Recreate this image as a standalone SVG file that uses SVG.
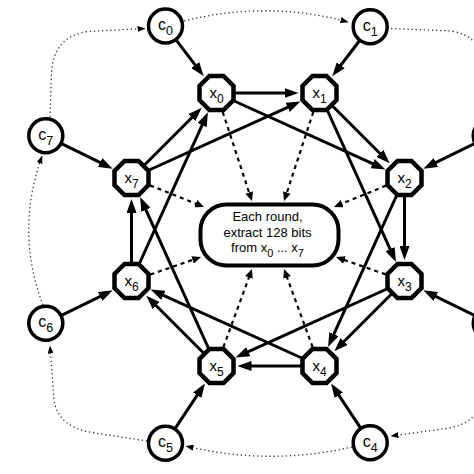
<svg xmlns="http://www.w3.org/2000/svg" xmlns:xlink="http://www.w3.org/1999/xlink" width="474" height="474" viewBox="0 0 474 474">
<style>
.bg{fill:#fff}
.e{fill:none;stroke:#000;stroke-width:3;marker-end:url(#ah)}
.d{fill:none;stroke:#000;stroke-width:2.2;stroke-dasharray:4 4;marker-end:url(#dh)}
.t{fill:none;stroke:#333;stroke-width:1.3;stroke-dasharray:1.3 2.8;marker-end:url(#th)}
.oct{fill:#fff;stroke:#000;stroke-width:4.5;stroke-linejoin:miter}
.cir{fill:#fff;stroke:#000;stroke-width:3.5}
.box{fill:#fff;stroke:#000;stroke-width:4}
.lbl{font-family:"Liberation Sans",Arial,sans-serif;font-size:15px;fill:#000;text-anchor:middle}
.sub{font-size:12px}
.btxt{font-family:"Liberation Sans",Arial,sans-serif;font-size:13px;fill:#000;text-anchor:middle}
.bsub{font-size:11px}
</style>
<defs>
<marker id="ah" markerUnits="userSpaceOnUse" markerWidth="14" markerHeight="10" refX="6" refY="5" orient="auto" viewBox="0 0 14 10"><path d="M0,0 L14,5 L0,10 z" fill="#000"/></marker>
<marker id="dh" markerUnits="userSpaceOnUse" markerWidth="9" markerHeight="8" refX="4" refY="4" orient="auto" viewBox="0 0 9 8"><path d="M0,0 L9,4 L0,8 z" fill="#000"/></marker>
<marker id="th" markerUnits="userSpaceOnUse" markerWidth="8" markerHeight="6" refX="7.5" refY="3" orient="auto" viewBox="0 0 8 6"><path d="M0,0 L8,3 L0,6 z" fill="#000"/></marker>
<polygon id="oct" points="-7,-17 7,-17 17,-7 17,7 7,17 -7,17 -17,7 -17,-7"/>
</defs>
<rect class="bg" x="0" y="0" width="474" height="474"/>

<g id="connectors">
  <!-- dotted ring between c nodes -->
  <path class="t" d="M184,21 Q268,0 348,22"/>
  <path class="t" d="M391,28.5 L451,31 Q483,36 484.5,70 L486,117"/>
  <path class="t" d="M486,346 L482,398 Q478,424 446,428.5 L391,436"/>
  <path class="t" d="M352,447 Q268,466 186,446"/>
  <path class="t" d="M147,441 L95,433 Q58,428 54,400 L50,346"/>
  <path class="t" d="M43,305 Q15,232 42,156"/>
  <path class="t" d="M50,117 L51.5,72 Q54,36 88,31.5 L145,28.5"/>

  <!-- c_i to x_i -->
  <path class="e" d="M176.4,40.3 L198.9,69.9"/>
  <path class="e" d="M359.3,41 L337.1,70"/>
  <path class="e" d="M474,143.8 L430.5,165.2"/>
  <path class="e" d="M474,315.2 L430.5,293.8"/>
  <path class="e" d="M360.3,427.7 L335.5,390.2"/>
  <path class="e" d="M175.4,428.2 L200.5,390.2"/>
  <path class="e" d="M62,315.2 L105.5,293.8"/>
  <path class="e" d="M62,143.8 L105.5,165.2"/>

  <!-- x_i to x_(i+1) -->
  <path class="e" d="M233.5,93 L290.5,93"/>
  <path class="e" d="M331.5,105 L384,157.5"/>
  <path class="e" d="M404.5,195 L404.5,252"/>
  <path class="e" d="M392.5,293 L340,345.5"/>
  <path class="e" d="M302.5,366 L245.5,366"/>
  <path class="e" d="M204.5,354 L152,301.5"/>
  <path class="e" d="M131.5,264 L131.5,207"/>
  <path class="e" d="M143.5,166 L196,113.5"/>

  <!-- x_i to x_(i+2) -->
  <path class="e" d="M232,100 L378.1,166.1"/>
  <path class="e" d="M326.5,108.5 L392.6,254.6"/>
  <path class="e" d="M397.5,193.5 L331.4,339.6"/>
  <path class="e" d="M389,288 L242.9,354.1"/>
  <path class="e" d="M304,359 L157.9,292.9"/>
  <path class="e" d="M209.5,350.5 L143.4,204.4"/>
  <path class="e" d="M138.5,265.5 L204.6,119.6"/>
  <path class="e" d="M147,171 L293.1,104.9"/>

  <!-- x_i to extraction box -->
  <path class="d" d="M222.7,112 L250.4,196.3"/>
  <path class="d" d="M313.3,112 L285.6,196.3"/>
  <path class="d" d="M386,185.6 L338.6,205.1"/>
  <path class="d" d="M385.6,274.4 L340.7,258.7"/>
  <path class="d" d="M312.6,347.2 L285.7,273.7"/>
  <path class="d" d="M223.4,347.2 L250.3,273.7"/>
  <path class="d" d="M150.4,274.5 L196.3,258.6"/>
  <path class="d" d="M150.1,185.4 L199.4,205.1"/>
</g>

<g id="box">
  <rect class="box" x="200.5" y="204.5" width="138" height="61" rx="26" ry="26"/>
  <text class="btxt" x="267.5" y="221">Each round,</text>
  <text class="btxt" x="267.5" y="237">extract 128 bits</text>
  <text class="btxt" x="267.5" y="252">from x<tspan class="bsub" dy="5">0</tspan><tspan dy="-5"> ... x</tspan><tspan class="bsub" dy="5">7</tspan></text>
</g>

<g id="x0" transform="translate(216.5,93)"><use xlink:href="#oct" class="oct"/><text class="lbl" x="0" y="5">x<tspan class="sub" dy="4.5">0</tspan></text></g>
<g id="x1" transform="translate(319.5,93)"><use xlink:href="#oct" class="oct"/><text class="lbl" x="0" y="5">x<tspan class="sub" dy="4.5">1</tspan></text></g>
<g id="x2" transform="translate(404.5,178)"><use xlink:href="#oct" class="oct"/><text class="lbl" x="0" y="5">x<tspan class="sub" dy="4.5">2</tspan></text></g>
<g id="x3" transform="translate(404.5,281)"><use xlink:href="#oct" class="oct"/><text class="lbl" x="0" y="5">x<tspan class="sub" dy="4.5">3</tspan></text></g>
<g id="x4" transform="translate(319.5,366)"><use xlink:href="#oct" class="oct"/><text class="lbl" x="0" y="5">x<tspan class="sub" dy="4.5">4</tspan></text></g>
<g id="x5" transform="translate(216.5,366)"><use xlink:href="#oct" class="oct"/><text class="lbl" x="0" y="5">x<tspan class="sub" dy="4.5">5</tspan></text></g>
<g id="x6" transform="translate(131.5,281)"><use xlink:href="#oct" class="oct"/><text class="lbl" x="0" y="5">x<tspan class="sub" dy="4.5">6</tspan></text></g>
<g id="x7" transform="translate(131.5,178)"><use xlink:href="#oct" class="oct"/><text class="lbl" x="0" y="5">x<tspan class="sub" dy="4.5">7</tspan></text></g>

<g id="c0" transform="translate(165.5,26)"><circle class="cir" r="17"/><text class="lbl" x="0" y="4" style="font-size:16px">c<tspan class="sub" dy="5" style="font-size:12.5px">0</tspan></text></g>
<g id="c1" transform="translate(370.2,26.7)"><circle class="cir" r="17"/><text class="lbl" x="0" y="4" style="font-size:16px">c<tspan class="sub" dy="5" style="font-size:12.5px">1</tspan></text></g>
<g id="c2" transform="translate(490.2,135.8)"><circle class="cir" r="17"/></g>
<g id="c3" transform="translate(490.2,323.2)"><circle class="cir" r="17"/></g>
<g id="c4" transform="translate(370.2,442.7)"><circle class="cir" r="17"/><text class="lbl" x="0" y="4" style="font-size:16px">c<tspan class="sub" dy="5" style="font-size:12.5px">4</tspan></text></g>
<g id="c5" transform="translate(165.5,443.2)"><circle class="cir" r="17"/><text class="lbl" x="0" y="4" style="font-size:16px">c<tspan class="sub" dy="5" style="font-size:12.5px">5</tspan></text></g>
<g id="c6" transform="translate(45.8,323.2)"><circle class="cir" r="17"/><text class="lbl" x="0" y="4" style="font-size:16px">c<tspan class="sub" dy="5" style="font-size:12.5px">6</tspan></text></g>
<g id="c7" transform="translate(45.8,135.8)"><circle class="cir" r="17"/><text class="lbl" x="0" y="4" style="font-size:16px">c<tspan class="sub" dy="5" style="font-size:12.5px">7</tspan></text></g>
</svg>
